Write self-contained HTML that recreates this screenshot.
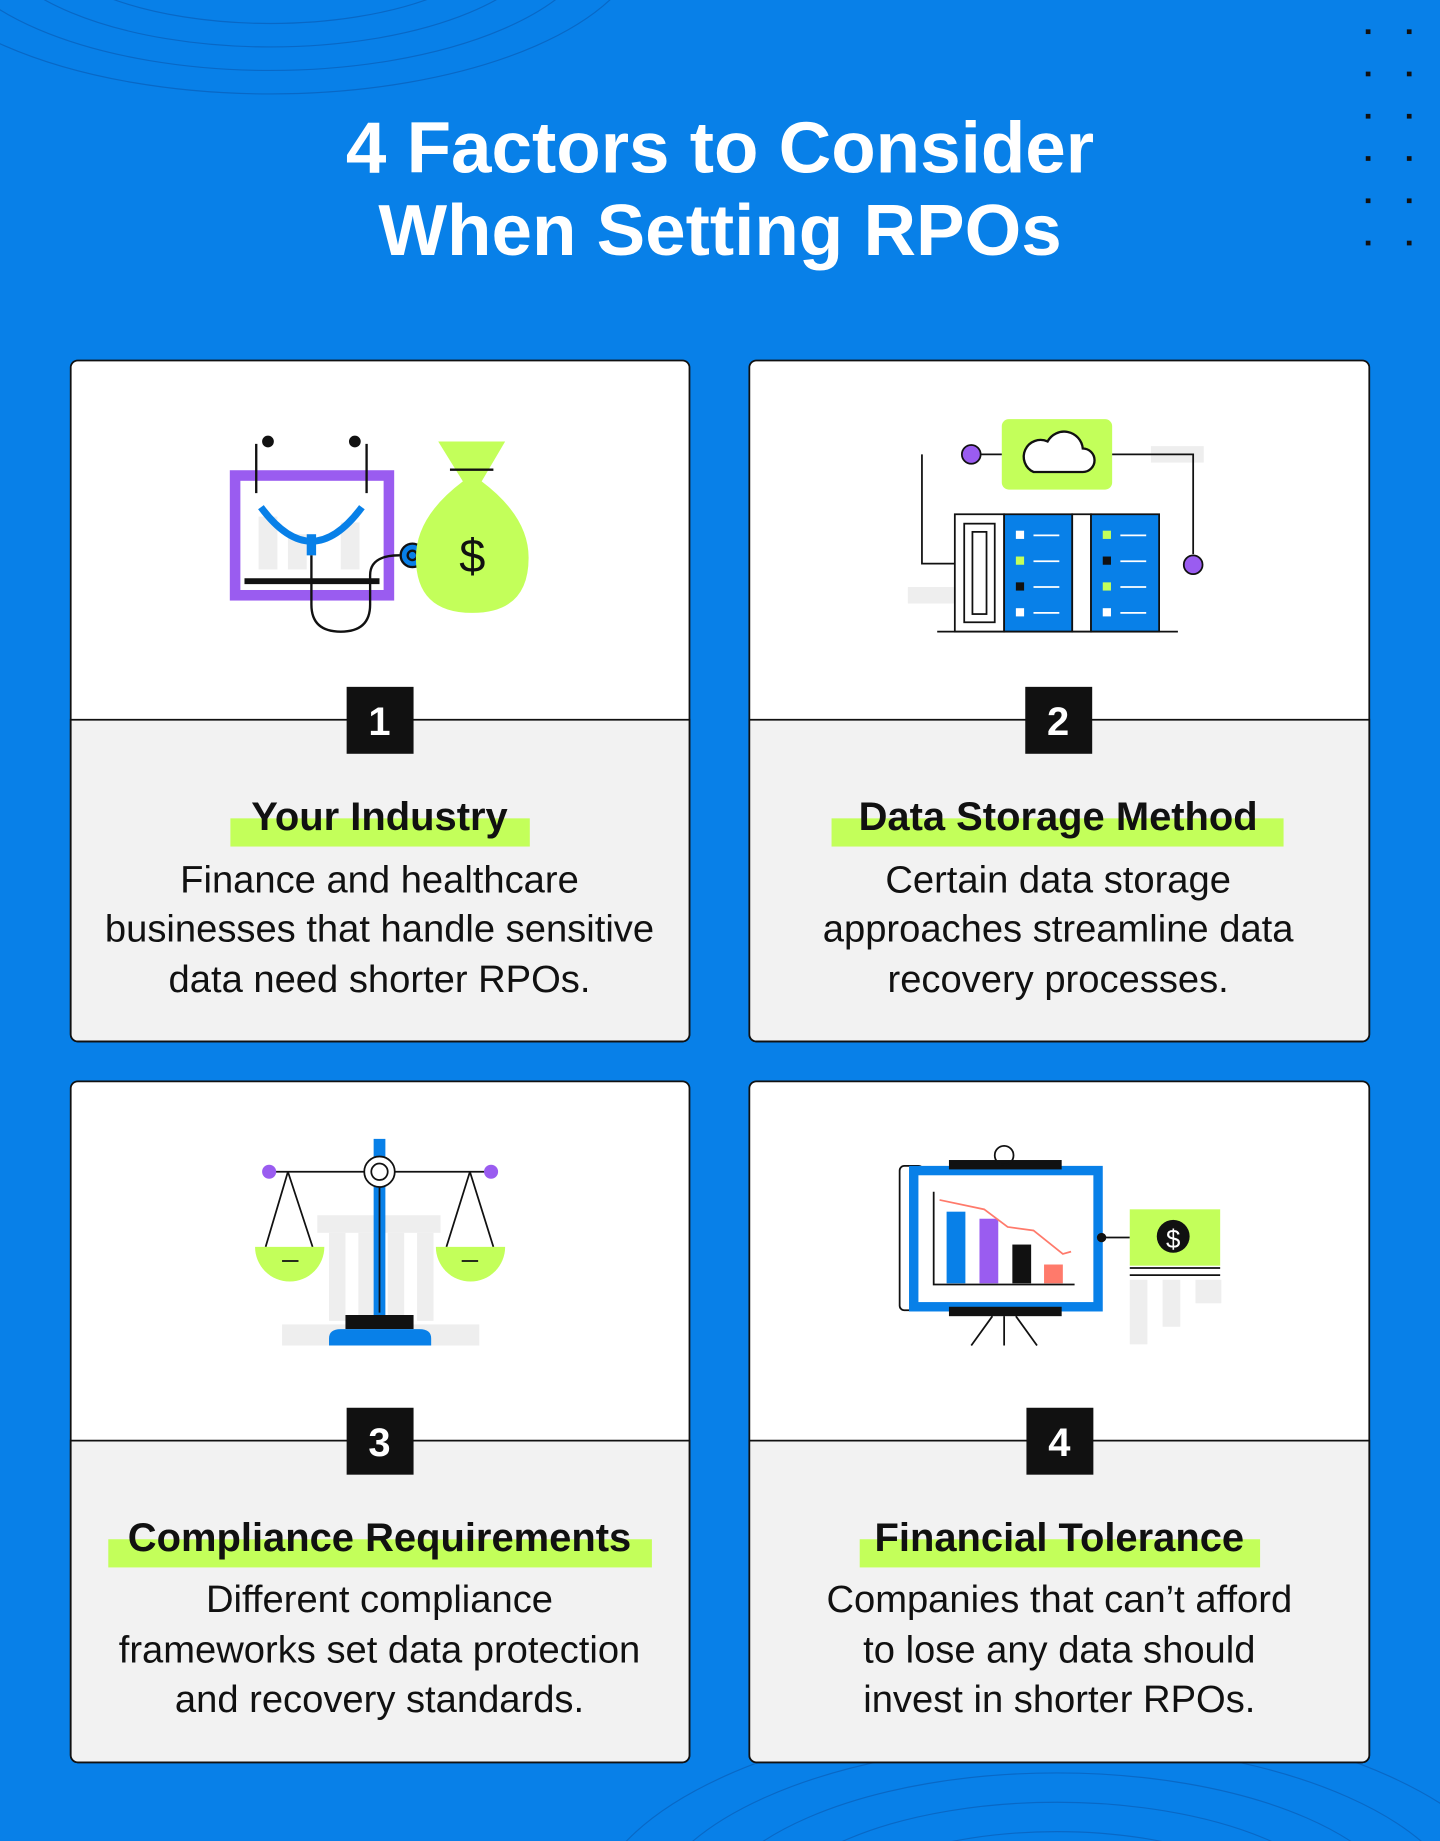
<!DOCTYPE html>
<html><head><meta charset="utf-8"><style>
html,body{margin:0;padding:0;background:#0880e8;width:1440px;height:1841px;overflow:hidden;}
svg{display:block}
text{font-family:"Liberation Sans",sans-serif}
</style></head><body>
<svg width="1440" height="1841" viewBox="0 0 1226 1568" xmlns="http://www.w3.org/2000/svg">
<rect width="1226" height="1568" fill="#0880e8"/>
<g fill="none" stroke="#0a5fb8" stroke-width="1" opacity="0.7">
<ellipse cx="230" cy="-60" rx="200" ry="80"/><ellipse cx="230" cy="-60" rx="240" ry="100"/><ellipse cx="230" cy="-60" rx="280" ry="120"/><ellipse cx="230" cy="-60" rx="320" ry="140"/>
<ellipse cx="900" cy="1640" rx="200" ry="80"/><ellipse cx="900" cy="1640" rx="250" ry="105"/><ellipse cx="900" cy="1640" rx="300" ry="130"/><ellipse cx="900" cy="1640" rx="350" ry="155"/><ellipse cx="900" cy="1640" rx="400" ry="180"/>
</g>
<g fill="#111">
<rect x="1163" y="25" width="4" height="4"/><rect x="1198" y="25" width="4" height="4"/>
<rect x="1163" y="61" width="4" height="4"/><rect x="1198" y="61" width="4" height="4"/>
<rect x="1163" y="97" width="4" height="4"/><rect x="1198" y="97" width="4" height="4"/>
<rect x="1163" y="133" width="4" height="4"/><rect x="1198" y="133" width="4" height="4"/>
<rect x="1163" y="169" width="4" height="4"/><rect x="1198" y="169" width="4" height="4"/>
<rect x="1163" y="205" width="4" height="4"/><rect x="1198" y="205" width="4" height="4"/>
</g>
<text x="613" y="147" text-anchor="middle" fill="#fff" font-size="62" font-weight="bold">4 Factors to Consider</text>
<text x="613" y="217" text-anchor="middle" fill="#fff" font-size="62" font-weight="bold">When Setting RPOs</text>

<g stroke="#111" stroke-width="1.5">
<rect x="60" y="307" width="527" height="580" rx="6" fill="#fff"/>
<path d="M60 613 H587 V881 a6 6 0 0 1 -6 6 H66 a6 6 0 0 1 -6 -6 Z" fill="#f2f2f2"/>
<rect x="638" y="307" width="528" height="580" rx="6" fill="#fff"/>
<path d="M638 613 H1166 V881 a6 6 0 0 1 -6 6 H644 a6 6 0 0 1 -6 -6 Z" fill="#f2f2f2"/>
<rect x="60" y="921" width="527" height="580" rx="6" fill="#fff"/>
<path d="M60 1227 H587 V1495 a6 6 0 0 1 -6 6 H66 a6 6 0 0 1 -6 -6 Z" fill="#f2f2f2"/>
<rect x="638" y="921" width="528" height="580" rx="6" fill="#fff"/>
<path d="M638 1227 H1166 V1495 a6 6 0 0 1 -6 6 H644 a6 6 0 0 1 -6 -6 Z" fill="#f2f2f2"/>
</g>

<g fill="#111">
<rect x="295" y="585" width="57" height="57"/><rect x="873" y="585" width="57" height="57"/>
<rect x="295" y="1199" width="57" height="57"/><rect x="874" y="1199" width="57" height="57"/>
</g>
<g fill="#fff" font-size="34" font-weight="bold" text-anchor="middle">
<text x="323" y="626">1</text><text x="901" y="626">2</text><text x="323" y="1240">3</text><text x="902" y="1240">4</text>
</g>

<g fill="#c3ff5a">
<rect x="196" y="697" width="255" height="24"/><rect x="708" y="697" width="385" height="24"/>
<rect x="92" y="1311" width="463" height="24"/><rect x="732" y="1311" width="341" height="24"/>
</g>
<g fill="#111" font-size="34" font-weight="bold" text-anchor="middle">
<text x="323" y="707">Your Industry</text><text x="901" y="707">Data Storage Method</text>
<text x="323" y="1321">Compliance Requirements</text><text x="902" y="1321">Financial Tolerance</text>
</g>
<g fill="#111" font-size="32.5" text-anchor="middle">
<text x="323" y="760">Finance and healthcare</text>
<text x="323" y="802">businesses that handle sensitive</text>
<text x="323" y="845">data need shorter RPOs.</text>
<text x="901" y="760">Certain data storage</text>
<text x="901" y="802">approaches streamline data</text>
<text x="901" y="845">recovery processes.</text>
<text x="323" y="1373">Different compliance</text>
<text x="323" y="1416">frameworks set data protection</text>
<text x="323" y="1458">and recovery standards.</text>
<text x="902" y="1373">Companies that can’t afford</text>
<text x="902" y="1416">to lose any data should</text>
<text x="902" y="1458">invest in shorter RPOs.</text>
</g>

<!-- icon 1 -->
<g>
<rect x="200" y="405" width="131" height="102" fill="none" stroke="#9a5cf0" stroke-width="9"/>
<rect x="220" y="440" width="16" height="45" fill="#eee"/><rect x="245" y="455" width="16" height="30" fill="#eee"/><rect x="290" y="445" width="16" height="40" fill="#eee"/>
<line x1="208" y1="495" x2="323" y2="495" stroke="#111" stroke-width="5"/>
<path d="M218 378 V420 M312 378 V420" stroke="#111" stroke-width="2" fill="none"/>
<circle cx="228" cy="376" r="5" fill="#111"/><circle cx="302" cy="376" r="5" fill="#111"/>
<path d="M222 432 Q265 490 308 432" stroke="#0880e8" stroke-width="6" fill="none"/>
<rect x="261" y="455" width="8" height="18" fill="#0880e8"/>
<path d="M265 473 V515 Q265 538 290 538 Q315 538 315 515 V490 Q315 473 340 473" stroke="#111" stroke-width="2" fill="none"/>
<circle cx="351" cy="473" r="10" fill="#0880e8" stroke="#111" stroke-width="2"/><circle cx="351" cy="473" r="4" fill="none" stroke="#111" stroke-width="2"/>
<path d="M373 376 H430 L410 410 Q450 440 450 475 Q450 522 402 522 Q354 522 354 475 Q354 440 394 410 Z" fill="#c3ff5a"/>
<line x1="383" y1="400" x2="420" y2="400" stroke="#111" stroke-width="2"/>
<text x="402" y="487" text-anchor="middle" font-size="40" fill="#111">$</text>
</g>
<!-- icon 2 -->
<g>
<rect x="773" y="500" width="60" height="14" fill="#eee"/><rect x="980" y="380" width="45" height="14" fill="#eee"/>
<rect x="853" y="357" width="94" height="60" rx="6" fill="#c3ff5a"/>
<path d="M880 402 H922 a10 10 0 0 0 0 -20 a16 16 0 0 0 -30 -6 a12 12 0 0 0 -12 26 Z" fill="#fff" stroke="#111" stroke-width="2"/>
<path d="M835 387 H853 M947 387 H1016 V472 M785 387 V480 H813" stroke="#111" stroke-width="1.5" fill="none"/>
<circle cx="827" cy="387" r="8" fill="#9a5cf0" stroke="#111" stroke-width="1.5"/><circle cx="1016" cy="481" r="8" fill="#9a5cf0" stroke="#111" stroke-width="1.5"/>
<rect x="813" y="438" width="42" height="100" fill="#fff" stroke="#111" stroke-width="1.5"/>
<rect x="821" y="446" width="26" height="84" fill="none" stroke="#111" stroke-width="1.5"/><rect x="828" y="453" width="12" height="70" fill="none" stroke="#111" stroke-width="1.5"/>
<rect x="855" y="438" width="58" height="100" fill="#0880e8" stroke="#111" stroke-width="1.5"/>
<rect x="913" y="438" width="16" height="100" fill="#fff" stroke="#111" stroke-width="1.5"/>
<rect x="929" y="438" width="58" height="100" fill="#0880e8" stroke="#111" stroke-width="1.5"/>
<g fill="#fff"><rect x="865" y="452" width="7" height="7"/><rect x="865" y="518" width="7" height="7"/><rect x="939" y="518" width="7" height="7"/></g>
<g fill="#c3ff5a"><rect x="865" y="474" width="7" height="7"/><rect x="939" y="452" width="7" height="7"/><rect x="939" y="496" width="7" height="7"/></g>
<g fill="#111"><rect x="865" y="496" width="7" height="7"/><rect x="939" y="474" width="7" height="7"/></g>
<g stroke="#fff" stroke-width="1.5"><path d="M880 456 H902 M880 478 H902 M880 500 H902 M880 522 H902 M954 456 H976 M954 478 H976 M954 500 H976 M954 522 H976"/></g>
<line x1="798" y1="538" x2="1003" y2="538" stroke="#111" stroke-width="1.5"/>
</g>
<!-- icon 3 -->
<g>
<rect x="240" y="1128" width="168" height="18" fill="#eee"/><rect x="270" y="1035" width="105" height="15" fill="#eee"/>
<rect x="280" y="1050" width="14" height="75" fill="#eee"/><rect x="305" y="1050" width="14" height="75" fill="#eee"/><rect x="330" y="1050" width="14" height="75" fill="#eee"/><rect x="355" y="1050" width="14" height="75" fill="#eee"/>
<line x1="230" y1="998" x2="418" y2="998" stroke="#111" stroke-width="1.5"/>
<circle cx="229" cy="998" r="6" fill="#9a5cf0"/><circle cx="418" cy="998" r="6" fill="#9a5cf0"/>
<path d="M245 998 L226 1062 M245 998 L266 1062 M400 998 L380 1062 M400 998 L420 1062" stroke="#111" stroke-width="1.5"/>
<path d="M217 1062 H276 A29 29 0 0 1 217 1062 Z" fill="#c3ff5a"/><path d="M371 1062 H430 A29 29 0 0 1 371 1062 Z" fill="#c3ff5a"/>
<path d="M240 1074 H254 M393 1074 H407" stroke="#111" stroke-width="1.5"/>
<rect x="318" y="970" width="10" height="150" fill="#0880e8"/>
<line x1="323" y1="1010" x2="323" y2="1118" stroke="#111" stroke-width="1.5"/>
<circle cx="323" cy="998" r="13" fill="#fff" stroke="#111" stroke-width="1.5"/><circle cx="323" cy="998" r="7" fill="none" stroke="#111" stroke-width="1.5"/>
<rect x="294" y="1120" width="58" height="12" fill="#111"/>
<path d="M280 1146 V1140 Q280 1132 290 1132 H357 Q367 1132 367 1140 V1146 Z" fill="#0880e8"/>
</g>
<!-- icon 4 -->
<g>
<rect x="962" y="1090" width="15" height="55" fill="#eee"/><rect x="990" y="1090" width="15" height="40" fill="#eee"/><rect x="1018" y="1090" width="22" height="20" fill="#eee"/>
<rect x="766" y="993" width="20" height="123" rx="4" fill="#fff" stroke="#111" stroke-width="1.5"/>
<rect x="778" y="997" width="157" height="116" fill="#fff" stroke="#0880e8" stroke-width="8"/>
<rect x="808" y="988" width="96" height="8" fill="#111"/><rect x="808" y="1113" width="96" height="8" fill="#111"/>
<circle cx="855" cy="984" r="8" fill="none" stroke="#111" stroke-width="1.5"/>
<path d="M845 1121 L827 1146 M855 1121 V1146 M865 1121 L883 1146" stroke="#111" stroke-width="1.5"/>
<path d="M795 1015 V1094 H915" stroke="#111" stroke-width="1.5" fill="none"/>
<rect x="806" y="1032" width="16" height="61" fill="#0880e8"/><rect x="834" y="1038" width="16" height="55" fill="#9a5cf0"/>
<rect x="862" y="1060" width="16" height="33" fill="#111"/><rect x="889" y="1077" width="16" height="16" fill="#ff7a6b"/>
<path d="M800 1022 L838 1030 L858 1045 L880 1048 L905 1068 L912 1066" stroke="#ff7a6b" stroke-width="1.5" fill="none"/>
<line x1="935" y1="1054" x2="962" y2="1054" stroke="#111" stroke-width="1.5"/><circle cx="938" cy="1054" r="4" fill="#111"/>
<rect x="962" y="1030" width="77" height="48" fill="#c3ff5a"/>
<circle cx="999" cy="1053" r="14" fill="#111"/>
<text x="999" y="1063" text-anchor="middle" font-size="22" fill="#fff">$</text>
<path d="M962 1080 H1039 M962 1086 H1039" stroke="#111" stroke-width="1.5"/>
</g>
</svg>
</body></html>
